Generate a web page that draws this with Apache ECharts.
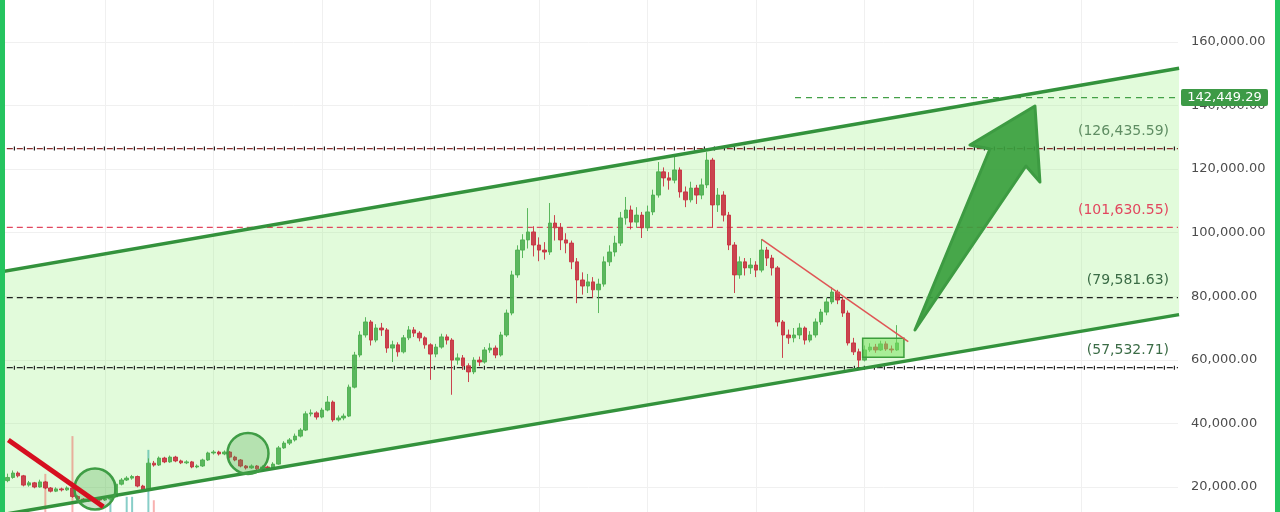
<!DOCTYPE html>
<html><head><meta charset="utf-8">
<script src="https://cdn.jsdelivr.net/npm/echarts@6/dist/echarts.min.js"></script>
<style>html,body{margin:0;padding:0;background:#fff;overflow:hidden}#c{width:1280px;height:512px}</style>
</head><body><div id="c"></div>
<script>
// ---------- DATA ----------
const candleStart = 2; // bar index of first candle on the time axis
const opens = [22000,23000,24400,23500,20600,21300,20000,21600,19700,18700,
19400,19100,19700,17000,16200,15600,15900,16500,15900,16200,
16900,20900,22200,22800,23300,20300,19100,27500,26900,29100,
27900,29400,28200,27600,27900,26300,26600,28500,30700,31000,
30400,31000,29400,28500,26600,26000,26600,25700,26300,26000,
27200,32300,33800,34800,36000,37900,43000,43300,42000,44200,
46700,41100,41700,42300,51400,61500,67800,71900,66200,70000,
69400,63700,64700,62500,66900,69400,68400,66900,64700,61800,
64000,67200,66200,59900,60600,58100,56200,59900,59300,63100,
63700,61500,67800,74700,86700,94500,97700,100200,96100,94500,
93900,103000,101500,97700,96700,90800,85100,83200,84500,82000,
83800,90800,93900,96700,104600,107100,103300,105500,101500,106500,
111800,119100,117200,116500,119700,112800,110300,114000,111800,115000,
122800,108700,111800,105500,96100,86700,90800,88900,89800,88200,
94500,92000,88900,71900,67800,66900,67800,70000,66200,67800,
71900,75000,78200,81300,78800,74700,65300,62500,59900,63100,
64000,63100,65000,63400,63100];
const closes = [23000,24400,23500,20600,21300,20000,21600,19700,18700,19400,
19100,19700,17000,16200,15600,15900,16500,15900,16200,16900,
20900,22200,22800,23300,20300,19100,27500,26900,29100,27900,
29400,28200,27600,27900,26300,26600,28500,30700,31000,30400,
31000,29400,28500,26600,26000,26600,25700,26300,26000,27200,
32300,33800,34800,36000,37900,43000,43300,42000,44200,46700,
41100,41700,42300,51400,61500,67800,71900,66200,70000,69400,
63700,64700,62500,66900,69400,68400,66900,64700,61800,64000,
67200,66200,59900,60600,58100,56200,59900,59300,63100,63700,
61500,67800,74700,86700,94500,97700,100200,96100,94500,93900,
103000,101500,97700,96700,90800,85100,83200,84500,82000,83800,
90800,93900,96700,104600,107100,103300,105500,101500,106500,111800,
119100,117200,116500,119700,112800,110300,114000,111800,115000,122800,
108700,111800,105500,96100,86700,90800,88900,89800,88200,94500,
92000,88900,71900,67800,66900,67800,70000,66200,67800,71900,
75000,78200,81300,78800,74700,65300,62500,59900,63100,64000,
63100,65000,63400,63100,65300];
const lows = [21500,22600,23000,20200,20100,19600,19800,19300,18300,18400,
18600,18800,16600,15800,15200,15300,15600,15500,15600,15900,
16700,20500,21900,22300,19900,18700,18800,26400,26600,27500,
27600,27800,27200,27200,25900,25900,26300,28200,30200,29900,
30000,29000,28100,26200,25500,25700,25300,25400,25600,25800,
27000,32000,33200,34300,35600,37600,42200,41200,41600,43800,
40500,40600,41000,42000,51000,60800,67000,64500,65500,67500,
62200,59300,61000,62000,66200,67200,65800,63500,53700,60800,
63500,64800,49000,58500,56800,53000,55500,58000,58800,62200,
60500,61000,67200,74000,85800,92000,95000,92500,91000,91500,
93000,97500,94500,93500,88500,77800,80500,81000,79500,74700,
83000,89500,92500,95800,102500,101000,101500,98300,100500,105500,
111000,114500,113500,115500,111000,108000,109500,109000,110500,114000,
101500,106500,103500,94500,81000,85500,86500,87000,86000,87500,
89500,86500,70500,60600,65000,65500,66500,64800,65500,67000,
71000,74000,77500,77500,73500,64500,61500,57700,59500,62500,
62200,62800,62800,62200,62800];
const highs = [24200,25200,24900,23800,21900,21600,22300,21900,20000,19900,
19800,20200,20000,17400,16500,16300,16900,16800,16800,17300,
21500,22800,23400,23800,23600,20700,29000,28200,29600,29500,
29900,29800,28600,28400,28200,27100,28900,31100,31600,31400,
31500,31300,29800,28800,26900,27100,26900,26800,26700,27800,
32900,34400,35400,36800,38500,43800,44400,43800,44900,48600,
47200,42500,43100,52200,62500,69000,73400,72500,71200,71600,
70000,66000,65500,67800,70600,70300,69000,67400,65200,65000,
68200,68000,66800,62000,61500,58900,60800,61000,64000,65200,
64500,68800,75800,88000,96000,99500,107700,102000,98500,97000,
109300,105500,103000,99800,97500,92000,87500,87000,86000,85500,
92500,96000,99000,106500,111200,108500,108000,106500,108500,113500,
122200,120500,119000,124400,120500,114500,116000,115000,117000,125300,
123500,114000,113000,106500,97000,92500,92000,92000,91000,98000,
95500,93000,89500,72500,69500,70000,71500,70500,69000,73000,
76000,79500,82900,82000,79500,75500,66900,63500,64500,65200,
65000,66000,65800,64500,70900];
// volume spikes that reach into view: [bar index, volume (relative units)]
const volumeSpikes = [[9,13.4],[14,20.0],[21,9.4],[24,9.4],[25,9.4],[28,17.6],[29,8.8]];

// horizontal levels
const levelValues = [126435.59, 101630.55, 79581.63, 57532.71];
const targetValue = 142449.29;

// axis ticks
const yMin = 0, yMax = 180000, yStep = 20000;
const xMin = 0, xMax = 217.8, xStep = 20;

// drawings (time index, price)
const channelUpper = [[0, 87400], [218, 151700]];
const channelLower = [[0, 11000], [218, 74200]];
const redDownTrend = [[2.18, 34800], [19.69, 13800]];
const wedgeLine = [[141.05, 97900], [168.07, 65700]];
const boxCorners = [[159.67, 66760], [167.28, 60790]];
const circleCenters = [[18.16, 19370], [46.36, 30540]];
const arrowPoints = [[169.31, 69370], [183.13, 126290], [179.45, 127550], [191.43, 139810], [192.35, 115910], [189.77, 120940]];
const targetLineStart = 147.2;
const levelStart = 1.9;

// ---------- CHART ----------
const fmt = v => v.toLocaleString('en-US', {minimumFractionDigits: 2, maximumFractionDigits: 2});
const FONT = '"DejaVu Sans", sans-serif';
const chart = echarts.init(document.getElementById('c'));

const candleData = closes.map((c, i) => [candleStart + i, opens[i], c, lows[i], highs[i]]);
const volData = volumeSpikes.map(([x, v]) => {
  const i = x - candleStart;
  const up = closes[i] >= opens[i];
  return {value: [x, v], itemStyle: {color: up ? 'rgba(38,166,154,0.55)' : 'rgba(239,83,80,0.45)'}};
});

function seg(data, color, width, type, z, extra) {
  return Object.assign({
    type: 'line', data: data, symbol: 'none', silent: true, animation: false, z: z,
    lineStyle: {color: color, width: width, type: type || 'solid'}
  }, extra || {});
}

const levelStyles = [
  {main: '#8a2f2f', tick: '#1f1f1f', label: '#5f8d63'},
  {main: '#e2475f', tick: null, label: '#e2475f'},
  {main: '#1f1f1f', tick: null, label: '#3b6c46'},
  {main: '#262626', tick: '#262626', label: '#3b6c46'}
];

const series = [];
// channel fill
series.push({
  type: 'custom', silent: true, animation: false, z: 1,
  data: [[0, 0]],
  renderItem: (p, api) => ({
    type: 'polygon',
    shape: {points: [channelUpper[0], channelUpper[1], channelLower[1], channelLower[0]].map(q => api.coord(q))},
    style: {fill: 'rgba(150,240,125,0.28)'}
  })
});
// horizontal levels
levelValues.forEach((v, k) => {
  const s = levelStyles[k];
  series.push(seg([[levelStart, v], [xMax, v]], s.main, 1.2, [6, 4], 2));
  if (s.tick) series.push(seg([[levelStart, v], [xMax, v]], s.tick, 4, [1.2, 8.8], 2, {lineStyle: {color: s.tick, width: 4, type: [1.2, 8.8], cap: 'butt', dashOffset: 3}}));
});
series.push(seg([[targetLineStart, targetValue], [xMax, targetValue]], '#43a047', 1.2, [6, 5], 2));
// volume
series.push({type: 'bar', yAxisIndex: 1, data: volData, barWidth: 2, silent: true, animation: false, z: 2});
// candles
series.push({
  type: 'candlestick', data: candleData, encode: {x: 0, y: [1, 2, 3, 4]},
  barWidth: 4, silent: true, animation: false, z: 3,
  itemStyle: {color: '#4caf50', color0: '#c8303f', borderColor: '#4caf50', borderColor0: '#c8303f', borderWidth: 1, opacity: 0.9}
});
// channel lines
series.push(seg(channelUpper, '#33923c', 3.5, 'solid', 4));
series.push(seg(channelLower, '#33923c', 3.5, 'solid', 4));
// red lines
series.push(seg(redDownTrend, '#d60f20', 5, 'solid', 5));
series.push(seg(wedgeLine, '#e05555', 1.5, 'solid', 5));
// box
series.push({
  type: 'custom', silent: true, animation: false, z: 5, data: [[0, 0]],
  renderItem: (p, api) => {
    const a = api.coord(boxCorners[0]), b = api.coord(boxCorners[1]);
    return {type: 'rect', shape: {x: a[0], y: a[1], width: b[0] - a[0], height: b[1] - a[1]},
      style: {fill: 'rgba(120,228,95,0.55)', stroke: '#3c9e3c', lineWidth: 1.5}};
  }
});
// circles
series.push({
  type: 'custom', silent: true, animation: false, z: 5, data: circleCenters,
  renderItem: (p, api) => {
    const c = api.coord([api.value(0), api.value(1)]);
    return {type: 'circle', shape: {cx: c[0], cy: c[1], r: 20.5},
      style: {fill: 'rgba(76,170,76,0.3)', stroke: '#3f9d45', lineWidth: 2.5}};
  }
});
// arrow
series.push({
  type: 'custom', silent: true, animation: false, z: 6, data: [[0, 0]],
  renderItem: (p, api) => ({
    type: 'polygon', shape: {points: arrowPoints.map(q => api.coord(q))},
    style: {fill: 'rgba(58,160,62,0.92)', stroke: '#3d9b42', lineWidth: 3, lineJoin: 'round'}
  })
});
// level labels
series.push({
  type: 'custom', silent: true, animation: false, z: 7,
  data: levelValues.map((v, k) => [xMax, v, k]),
  renderItem: (p, api) => {
    const c = api.coord([api.value(0), api.value(1)]);
    const k = api.value(2);
    return {type: 'text', x: c[0] - 9, y: c[1] - 17,
      style: {text: '(' + fmt(levelValues[k]) + ')', fill: levelStyles[k].label, font: '14px ' + FONT, align: 'right', verticalAlign: 'middle'}};
  }
});
// price tag
series.push({
  type: 'custom', silent: true, animation: false, z: 8, data: [[xMax, targetValue]],
  renderItem: (p, api) => {
    const c = api.coord([api.value(0), api.value(1)]);
    return {type: 'group', children: [
      {type: 'rect', shape: {x: c[0] + 3, y: c[1] - 8.5, width: 87, height: 17, r: 2}, style: {fill: '#3d9a46'}},
      {type: 'text', x: c[0] + 46.5, y: c[1], style: {text: fmt(targetValue), fill: '#ffffff', font: '13px ' + FONT, align: 'center', verticalAlign: 'middle'}}
    ]};
  }
});

chart.setOption({
  animation: false,
  backgroundColor: '#ffffff',
  grid: {left: -3.5, right: 102, top: -21.8, height: 572.4, containLabel: false, outerBoundsMode: 'none'},
  xAxis: {
    type: 'value', min: xMin, max: xMax, interval: xStep,
    axisLabel: {show: false}, axisLine: {show: false}, axisTick: {show: false},
    splitLine: {show: true, showMaxLine: false, lineStyle: {color: '#f0f0f0', width: 1}}
  },
  yAxis: [{
    type: 'value', position: 'right', min: yMin, max: yMax, interval: yStep,
    axisLine: {show: false}, axisTick: {show: false},
    splitLine: {show: true, lineStyle: {color: '#f0f0f0', width: 1}},
    axisLabel: {margin: 13, color: '#4d4d4d', fontSize: 13, fontFamily: FONT,
      formatter: v => (v <= yMin || v >= yMax) ? '' : fmt(v)}
  }, {
    type: 'value', min: 0, max: 100, show: false
  }],
  graphic: [
    {type: 'rect', left: 0, top: 0, shape: {width: 5, height: 512}, style: {fill: '#25c45f'}, z: 100},
    {type: 'rect', left: 1275, top: 0, shape: {width: 5, height: 512}, style: {fill: '#25c45f'}, z: 100}
  ],
  series: series
});
</script>
</body></html>
